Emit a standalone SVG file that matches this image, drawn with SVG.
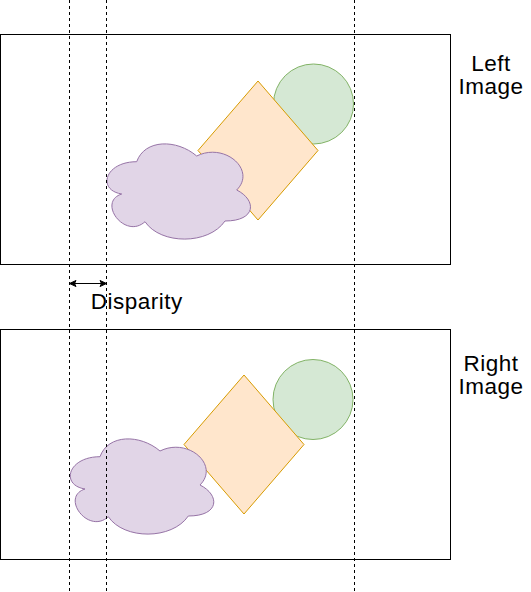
<svg xmlns="http://www.w3.org/2000/svg" xmlns:xlink="http://www.w3.org/1999/xlink" width="531" height="592" viewBox="0 0 531 592">
<style>
.frame{fill:#ffffff;stroke:#000000;stroke-width:1}
.circle{fill:#d5e8d4;stroke:#82b366;stroke-width:1}
.diamond{fill:#ffe6cc;stroke:#d79b00;stroke-width:1}
.cloud{fill:#e1d5e7;stroke:#9673a6;stroke-width:1}
.guide{fill:none;stroke:#000000;stroke-width:1;stroke-dasharray:3 3}
.lbl{font-family:"Liberation Sans",Arial,sans-serif;font-size:22.5px;letter-spacing:0.5px;fill:#000000}
</style>
<defs>
<path id="cloudShape" d="M 40 22.7 C 8 22.7 0 51 25 55 C 0 63 28.3 101 48.3 82.7 C 64 106 112 106 128.3 82 C 160 82 160 61 140 51 C 160 31 128 3 100 17 C 80 0 48 0 40 22.7 Z"/>
</defs>
<rect width="531" height="592" fill="#ffffff"/>
<g id="left-image">
<rect class="frame" x="0.5" y="34.5" width="450" height="230"/>
</g>
<g id="right-image">
<rect class="frame" x="0.5" y="329.5" width="450" height="230"/>
</g>
<g id="left-circle"><circle class="circle" cx="313.5" cy="104" r="40"/></g>
<g id="left-diamond"><polygon class="diamond" points="258,81 318,150.5 258,220 198,150.5"/></g>
<g id="left-cloud"><use xlink:href="#cloudShape" class="cloud" transform="translate(96.7,139)"/></g>
<g id="right-circle"><circle class="circle" cx="313" cy="399.5" r="40"/></g>
<g id="right-diamond"><polygon class="diamond" points="244,375 304,444.5 244,514 184,444.5"/></g>
<g id="right-cloud"><use xlink:href="#cloudShape" class="cloud" transform="translate(60,434)"/></g>
<g id="connectors">
<line class="guide" x1="69.5" y1="0" x2="69.5" y2="592"/>
<line class="guide" x1="106.5" y1="0" x2="106.5" y2="592"/>
<line class="guide" x1="354.5" y1="0" x2="354.5" y2="592"/>
<line x1="73" y1="283.5" x2="103" y2="283.5" stroke="#000" stroke-width="1"/>
<polygon points="69.5,283.5 76,280.5 74.5,283.5 76,286.5" fill="#000" stroke="#000" stroke-width="1"/>
<polygon points="106.5,283.5 100,280.5 101.5,283.5 100,286.5" fill="#000" stroke="#000" stroke-width="1"/>
</g>
<g id="labels">
<text class="lbl" x="90.8" y="308.6">Disparity</text>
<text class="lbl" x="491" y="70.7" text-anchor="middle">Left</text>
<text class="lbl" x="491" y="94" text-anchor="middle">Image</text>
<text class="lbl" x="491" y="370.7" text-anchor="middle">Right</text>
<text class="lbl" x="491" y="394" text-anchor="middle">Image</text>
</g>
</svg>
